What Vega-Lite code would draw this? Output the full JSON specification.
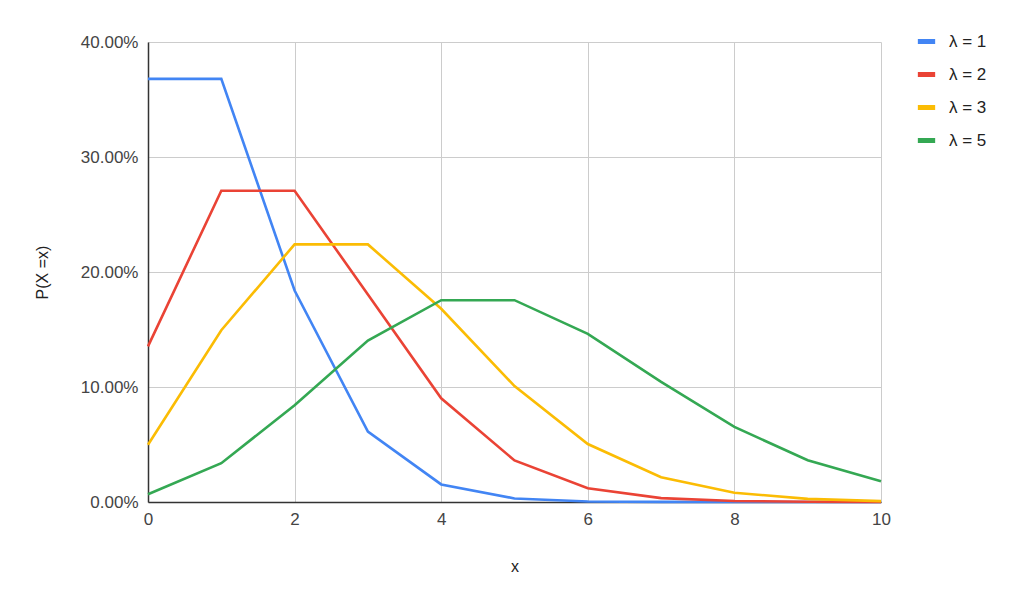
{
  "$schema": "https://vega.github.io/schema/vega-lite/v6.json",
  "autosize": {"type": "none"},
  "padding": {"left": 148, "top": 42, "right": 143, "bottom": 96},
  "width": 733,
  "height": 460,
  "background": "white",
  "data": {
    "values": [
      {"x": 0, "series": "λ = 1", "p": 0.3679},
      {"x": 1, "series": "λ = 1", "p": 0.3679},
      {"x": 2, "series": "λ = 1", "p": 0.1839},
      {"x": 3, "series": "λ = 1", "p": 0.0613},
      {"x": 4, "series": "λ = 1", "p": 0.0153},
      {"x": 5, "series": "λ = 1", "p": 0.0031},
      {"x": 6, "series": "λ = 1", "p": 0.0005},
      {"x": 7, "series": "λ = 1", "p": 0.0001},
      {"x": 8, "series": "λ = 1", "p": 0.0},
      {"x": 9, "series": "λ = 1", "p": 0.0},
      {"x": 10, "series": "λ = 1", "p": 0.0},
      {"x": 0, "series": "λ = 2", "p": 0.1353},
      {"x": 1, "series": "λ = 2", "p": 0.2707},
      {"x": 2, "series": "λ = 2", "p": 0.2707},
      {"x": 3, "series": "λ = 2", "p": 0.1804},
      {"x": 4, "series": "λ = 2", "p": 0.0902},
      {"x": 5, "series": "λ = 2", "p": 0.0361},
      {"x": 6, "series": "λ = 2", "p": 0.012},
      {"x": 7, "series": "λ = 2", "p": 0.0034},
      {"x": 8, "series": "λ = 2", "p": 0.0009},
      {"x": 9, "series": "λ = 2", "p": 0.0002},
      {"x": 10, "series": "λ = 2", "p": 0.0},
      {"x": 0, "series": "λ = 3", "p": 0.0498},
      {"x": 1, "series": "λ = 3", "p": 0.1494},
      {"x": 2, "series": "λ = 3", "p": 0.224},
      {"x": 3, "series": "λ = 3", "p": 0.224},
      {"x": 4, "series": "λ = 3", "p": 0.168},
      {"x": 5, "series": "λ = 3", "p": 0.1008},
      {"x": 6, "series": "λ = 3", "p": 0.0504},
      {"x": 7, "series": "λ = 3", "p": 0.0216},
      {"x": 8, "series": "λ = 3", "p": 0.0081},
      {"x": 9, "series": "λ = 3", "p": 0.0027},
      {"x": 10, "series": "λ = 3", "p": 0.0008},
      {"x": 0, "series": "λ = 5", "p": 0.0067},
      {"x": 1, "series": "λ = 5", "p": 0.0337},
      {"x": 2, "series": "λ = 5", "p": 0.0842},
      {"x": 3, "series": "λ = 5", "p": 0.1404},
      {"x": 4, "series": "λ = 5", "p": 0.1755},
      {"x": 5, "series": "λ = 5", "p": 0.1755},
      {"x": 6, "series": "λ = 5", "p": 0.1462},
      {"x": 7, "series": "λ = 5", "p": 0.1044},
      {"x": 8, "series": "λ = 5", "p": 0.0653},
      {"x": 9, "series": "λ = 5", "p": 0.0363},
      {"x": 10, "series": "λ = 5", "p": 0.0181}
    ]
  },
  "mark": {"type": "line", "strokeWidth": 2.6, "clip": false},
  "encoding": {
    "x": {
      "field": "x",
      "type": "quantitative",
      "title": "x",
      "scale": {"domain": [0, 10], "nice": false},
      "axis": {
        "values": [0, 2, 4, 6, 8, 10],
        "ticks": false,
        "labelFlush": false,
        "labelPadding": 9,
        "domainColor": "#333333",
        "titleY": 64,
        "titleBaseline": "middle"
      }
    },
    "y": {
      "field": "p",
      "type": "quantitative",
      "title": "P(X =x)",
      "scale": {"domain": [0, 0.4], "nice": false},
      "axis": {
        "values": [0, 0.1, 0.2, 0.3, 0.4],
        "format": ".2%",
        "ticks": false,
        "labelPadding": 10,
        "domainColor": "#333333",
        "titleX": -106,
        "titleY": 230,
        "titleBaseline": "middle",
        "titleAlign": "center"
      }
    },
    "color": {
      "field": "series",
      "type": "nominal",
      "title": null,
      "scale": {
        "domain": ["λ = 1", "λ = 2", "λ = 3", "λ = 5"],
        "range": ["#4285F4", "#EA4335", "#FBBC04", "#34A853"]
      },
      "legend": {
        "orient": "none",
        "legendX": 767,
        "legendY": -12,
        "symbolType": "stroke",
        "symbolStrokeWidth": 5,
        "symbolSize": 300,
        "labelOffset": 11,
        "rowPadding": 11
      }
    }
  },
  "config": {
    "font": "Liberation Sans",
    "view": {"stroke": null},
    "axis": {
      "labelFont": "Liberation Sans",
      "labelFontSize": 17,
      "labelColor": "#444444",
      "titleFont": "Liberation Sans",
      "titleFontSize": 16,
      "titleFontWeight": "normal",
      "titleColor": "#222222",
      "gridColor": "#cccccc",
      "gridWidth": 1,
      "domainWidth": 1.5
    },
    "legend": {
      "labelFont": "Liberation Sans",
      "labelFontSize": 17,
      "labelColor": "#222222"
    }
  }
}
